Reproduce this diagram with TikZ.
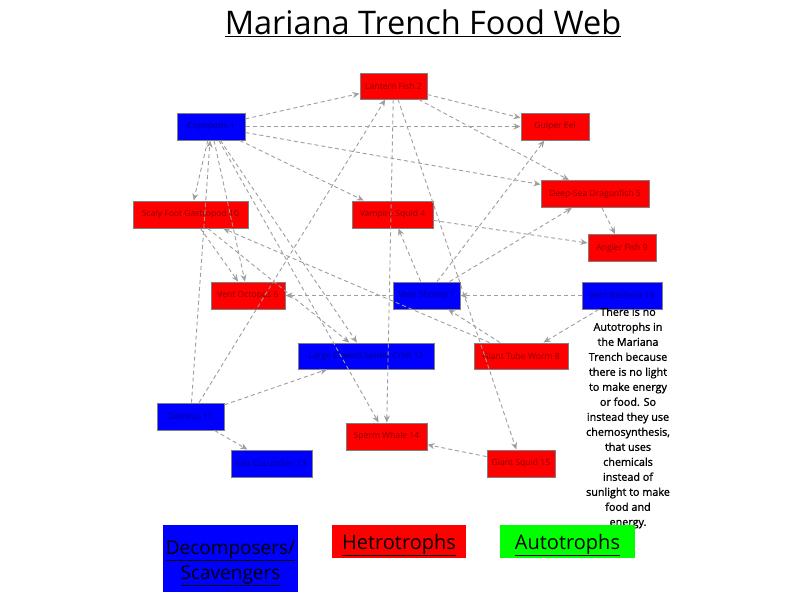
\documentclass[tikz,border=0pt]{standalone}
\usepackage{fontspec}
\setmainfont{Open Sans}
\usetikzlibrary{arrows.meta}
\definecolor{rfill}{HTML}{FF0000}
\definecolor{bfill}{HTML}{0000FF}
\definecolor{gfill}{HTML}{00FF00}
\definecolor{rtext}{HTML}{8A0000}
\definecolor{btext}{HTML}{00008A}
\definecolor{nborder}{HTML}{808080}
\definecolor{edgecol}{HTML}{9E9E9E}
\tikzset{
  anynode/.style={draw=nborder, line width=1pt, inner sep=0pt, minimum height=27pt, font=\fontsize{8.6}{9}\selectfont},
  rnode/.style={anynode, fill=rfill, text=rtext},
  bnode/.style={anynode, fill=bfill, text=btext},
  edge/.style={draw=edgecol, line width=0.9pt, dash pattern=on 4pt off 3pt, -{Stealth[length=7pt,width=6pt]}},
  legbox/.style={inner sep=0pt},
  legtext/.style={inner sep=0pt, text=black, align=center, font=\fontsize{20}{25}\selectfont}
}
\begin{document}
\begin{tikzpicture}[x=1pt,y=-1pt]
\fill[white] (0,0) rectangle (800,600);
\useasboundingbox (0,0) rectangle (800,600);

\node[inner sep=0pt, font=\fontsize{32.5}{36}\selectfont] (title) at (423,23.5) {\underline{Mariana Trench Food Web}};

% nodes
\node[rnode, minimum width=67pt, minimum height=26pt] (lantern) at (393.5,86) {Lantern Fish 2};
\node[bnode, minimum width=68pt] (cope) at (211,126.5) {Copepods 1};
\node[rnode, minimum width=68pt] (gulper) at (555,126.5) {Gulper Eel};
\node[rnode, minimum width=108pt] (dragon) at (595,194) {Deep-Sea Dragonfish 5};
\node[rnode, minimum width=115pt] (scaly) at (190.5,214.5) {Scaly Foot Gastropod 10};
\node[rnode, minimum width=81pt] (vamp) at (392.5,214.5) {Vampire Squid 4};
\node[rnode, minimum width=68pt] (angler) at (622,248) {Angler Fish 9};
\node[rnode, minimum width=74pt] (octo) at (248,295.5) {Vent Octopus 6};
\node[bnode, minimum width=67pt] (shrimp) at (426.5,295.5) {Vent Shrimp 7};
\node[bnode, minimum width=80pt] (bact) at (622,295.5) {Vent Bacteria 16};
\node[bnode, minimum width=136pt, minimum height=26pt] (crab) at (366,356) {Large Clawed Spider Crab 12};
\node[rnode, minimum width=94pt, minimum height=26pt] (tube) at (521,356) {Giant Tube Worm 8};
\node[bnode, minimum width=67pt] (detr) at (190.5,416.5) {Detritus 11};
\node[rnode, minimum width=81pt] (whale) at (386.5,436.5) {Sperm Whale 14};
\node[bnode, minimum width=81pt] (cucumber) at (271.5,463.5) {Sea Cucumber 13};
\node[rnode, minimum width=68pt] (gsquid) at (521,463.5) {Giant Squid 15};

% edges
\draw[edge] (cope) -- (lantern);
\draw[edge] (cope) -- (gulper);
\draw[edge] (cope) -- (dragon);
\draw[edge] (cope) -- (vamp);
\draw[edge] (cope) -- (scaly);
\draw[edge] (cope) -- (octo);
\draw[edge] (cope) -- (crab);
\draw[edge] (cope) -- (whale);
\draw[edge] (detr) -- (cope);
\draw[edge] (detr) -- (lantern);
\draw[edge] (detr) -- (crab);
\draw[edge] (detr) -- (cucumber);
\draw[edge] (lantern) -- (gulper);
\draw[edge] (lantern) -- (dragon);
\draw[edge] (lantern) -- (whale);
\draw[edge] (lantern) -- (gsquid);
\draw[edge] (scaly) -- (octo);
\draw[edge] (scaly) -- (crab);
\draw[edge] (tube) -- (scaly);
\draw[edge] (tube) -- (shrimp);
\draw[edge] (shrimp) -- (octo);
\draw[edge] (shrimp) -- (gulper);
\draw[edge] (shrimp) -- (dragon);
\draw[edge] (shrimp) -- (vamp);
\draw[edge] (bact) -- (shrimp);
\draw[edge] (bact) -- (tube);
\draw[edge] (vamp) -- (angler);
\draw[edge] (dragon) -- (angler);
\draw[edge] (gsquid) -- (whale);

% explanation text
\node[inner sep=0pt, align=center, text=black, font=\fontsize{10.8}{15}\selectfont\addfontfeature{FakeBold=1.2}] (note) at (628,418) {There is no\\Autotrophs in\\the Mariana\\Trench because\\there is no light\\to make energy\\or food. So\\instead they use\\chemosynthesis,\\that uses\\chemicals\\instead of\\sunlight to make\\food and\\energy.};

% legend
\node[legbox, fill=bfill, minimum width=135pt, minimum height=67pt] (legdec) at (230.5,558.5) {};
\node[legbox, fill=rfill, minimum width=134pt, minimum height=33pt] (leghet) at (399,541.5) {};
\node[legbox, fill=gfill, minimum width=135pt, minimum height=33pt] (legaut) at (567.5,541.5) {};
\node[legtext, font=\fontsize{19}{25}\selectfont] (legdect) at (230.5,563) {\underline{Decomposers/}\\\underline{Scavengers}};
\node[legtext] (leghett) at (399,545) {\underline{Hetrotrophs}};
\node[legtext] (legautt) at (567.5,545) {\underline{Autotrophs}};
\end{tikzpicture}
\end{document}
